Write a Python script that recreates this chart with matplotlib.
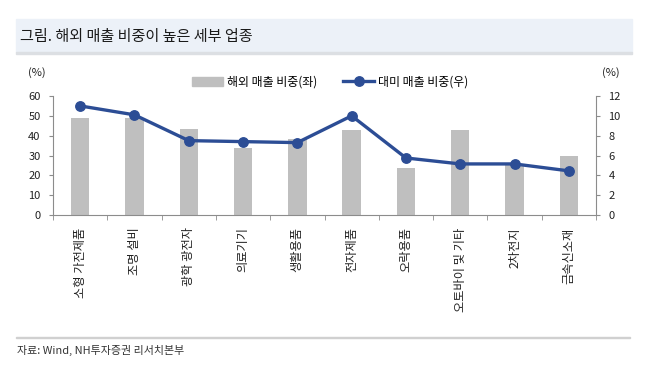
import matplotlib
matplotlib.use("Agg")
import matplotlib.pyplot as plt
from matplotlib.patches import Rectangle, Patch
from matplotlib.lines import Line2D
import numpy as np

plt.rcParams['font.family'] = ['Noto Sans CJK KR', 'DejaVu Sans']

categories = ['소형 가전제품', '조명 설비', '광학 광전자', '의료기기', '생활용품',
              '전자제품', '오락용품', '오토바이 및 기타', '2차전지', '금속신소재']
overseas_share = [48.7, 49.0, 43.4, 33.8, 38.3, 42.9, 23.5, 42.9, 25.2, 29.6]   # left axis
us_share = [11.0, 10.1, 7.5, 7.4, 7.3, 10.0, 5.75, 5.15, 5.15, 4.45]          # right axis

bar_color = '#BFBFBF'
line_color = '#2C4D95'
spine_color = '#8C8C8C'

W, H = 646, 375
fig = plt.figure(figsize=(W / 100, H / 100), dpi=100)

# header band
fig.patches.append(Rectangle((16 / W, 1 - 52 / H), 616 / W, 33 / H,
                             transform=fig.transFigure, color='#ECF1F8', zorder=0))
fig.patches.append(Rectangle((16 / W, 1 - 53.5 / H), 616 / W, 1.5 / H,
                             transform=fig.transFigure, color='#DCDFE3', zorder=0))
fig.text(20 / W, 1 - 36 / H, '그림. 해외 매출 비중이 높은 세부 업종', fontsize=10.9,
         color='#1A1A1A', va='center', ha='left')

# footer
fig.patches.append(Rectangle((16 / W, 1 - 338 / H), 614 / W, 1.2 / H,
                             transform=fig.transFigure, color='#D0D0D0', zorder=0))
fig.text(17 / W, 1 - 350 / H, '자료: Wind, NH투자증권 리서치본부', fontsize=7.9,
         color='#333333', va='center', ha='left')

ax = fig.add_axes([53 / W, 1 - 215 / H, 543 / W, 119 / H])
x = np.arange(len(categories))
ax.bar(x, overseas_share, width=0.34, color=bar_color, zorder=1)
ax.set_ylim(0, 60)
ax.set_yticks(np.arange(0, 61, 10))
ax.set_xlim(-0.5, len(categories) - 0.5)
ax.set_xticks(x)
ax.set_xticklabels(categories, rotation=90, fontsize=8.8, color='#222222', va='top')
ax.tick_params(axis='x', length=0, pad=9)
ax.set_xticks(np.arange(-0.5, len(categories), 1), minor=True)
ax.tick_params(axis='x', which='minor', length=3.5, direction='out', color=spine_color)
ax.tick_params(axis='y', length=3, color=spine_color, labelsize=8, labelcolor='#222222', pad=6)
for s in ['top', 'right']:
    ax.spines[s].set_visible(False)
for s in ['left', 'bottom']:
    ax.spines[s].set_color(spine_color)

ax2 = ax.twinx()
ax2.plot(x, us_share, color=line_color, lw=2.4, marker='o', markersize=6.8, zorder=3)
ax2.set_ylim(0, 12)
ax2.set_yticks(np.arange(0, 13, 2))
ax2.tick_params(axis='y', length=3, color=spine_color, labelsize=8, labelcolor='#222222', pad=6)
for s in ['top', 'left', 'bottom']:
    ax2.spines[s].set_visible(False)
ax2.spines['right'].set_color(spine_color)

fig.text(37 / W, 1 - 73 / H, '(%)', fontsize=8, color='#222222', ha='center', va='center')
fig.text(611 / W, 1 - 73 / H, '(%)', fontsize=8, color='#222222', ha='center', va='center')

handles = [Patch(color=bar_color),
           Line2D([0], [0], color=line_color, lw=2.4, marker='o', markersize=6.8)]
fig.legend(handles, ['해외 매출 비중(좌)', '대미 매출 비중(우)'], loc='center',
           bbox_to_anchor=(330 / W, 1 - 82 / H), ncol=2, frameon=False, fontsize=8.6,
           handlelength=2.6, handleheight=0.7, columnspacing=2.2, handletextpad=0.3)

fig.savefig('out.png', dpi=100)
